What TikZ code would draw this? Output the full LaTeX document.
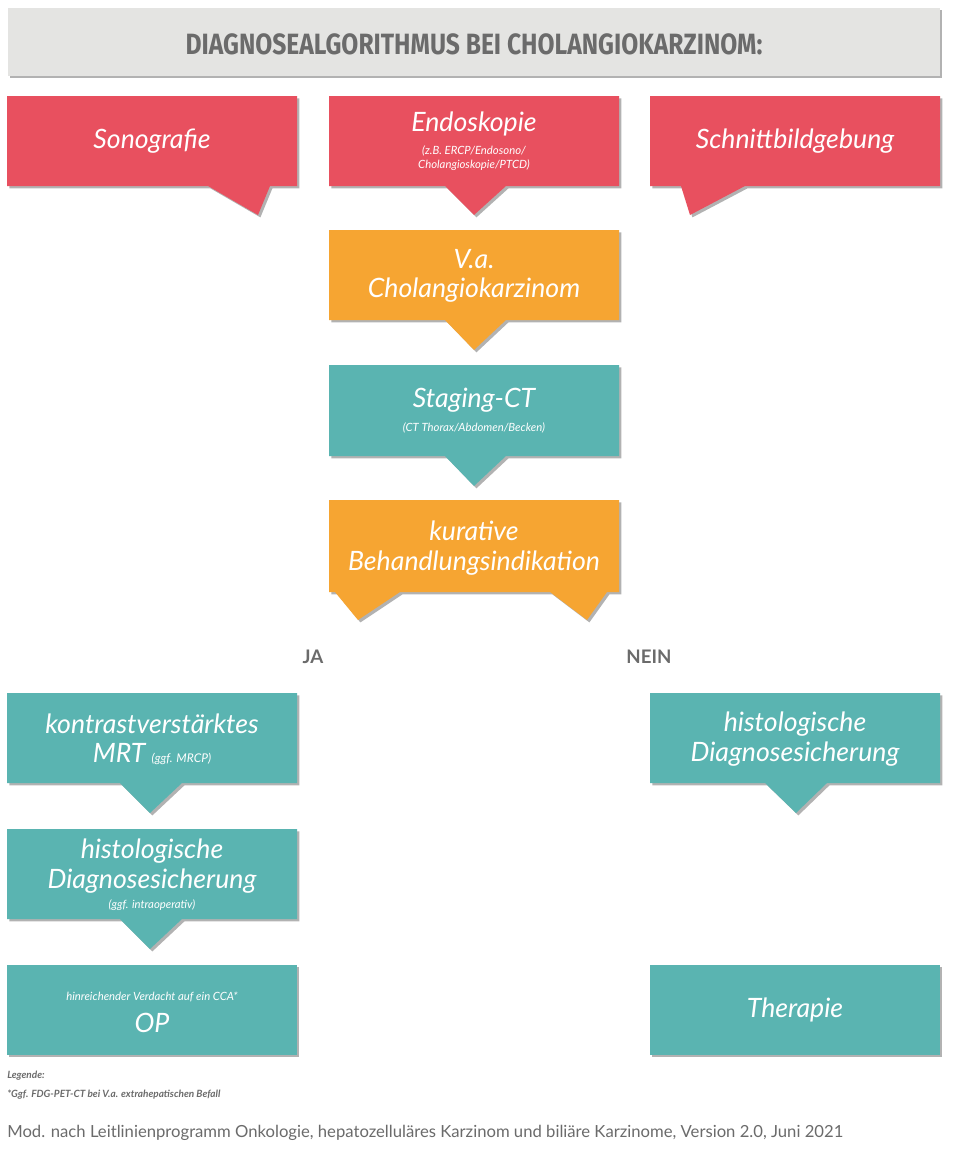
\documentclass[tikz,border=0pt]{standalone}
\usepackage{fontspec}
\setmainfont{Lato}
\newfontfamily\titlefont[FakeStretch=0.84]{Fira Sans}
\usetikzlibrary{shadows}
\definecolor{cred}{HTML}{E8505F}
\definecolor{corange}{HTML}{F6A532}
\definecolor{cteal}{HTML}{5AB4B1}
\definecolor{ctitle}{HTML}{E4E4E2}
\definecolor{cgray}{HTML}{6B6B6B}
\begin{document}
\begin{tikzpicture}[x=0.75pt,y=-0.75pt,
  bx/.style={drop shadow={shadow xshift=1.8pt,shadow yshift=-1.8pt,opacity=.3,fill=black}},
  txt/.style={text=white,align=center,font=\fontsize{20}{22}\selectfont\itshape,inner sep=0pt},
  small/.style={font=\fontsize{8.5}{10}\selectfont\itshape},
  lbl/.style={text=cgray,font=\fontsize{14}{16}\selectfont\bfseries,inner sep=0pt}]
\useasboundingbox (0,0) rectangle (957,1153);
\fill[white] (0,0) rectangle (957,1153);
% title
\fill[ctitle,bx] (8,8) rectangle (940,76);
\node[text=cgray,font=\titlefont\fontsize{22}{24}\selectfont\bfseries,inner sep=0pt] (title) at (474,44) {DIAGNOSEALGORITHMUS BEI CHOLANGIOKARZINOM:};
% row 1
\fill[cred,bx] (7,96) -- (297,96) -- (297,186) -- (270,186) -- (258,215) -- (208,186) -- (7,186) -- cycle;
\node[txt] (sono) at (152,141) {Sonografie};
\fill[cred,bx] (329,96) -- (619,96) -- (619,186) -- (506,186) -- (474,215) -- (445,186) -- (329,186) -- cycle;
\node[txt] (endo) at (474,124) {Endoskopie};
\node[txt,small,align=center] (endos) at (474,158) {(z.B. ERCP/Endosono/\\Cholangioskopie/PTCD)};
\fill[cred,bx] (650,96) -- (940,96) -- (940,186) -- (745,186) -- (690,215) -- (681,186) -- (650,186) -- cycle;
\node[txt] (schnitt) at (795,141) {Schnittbildgebung};
% V.a.
\fill[corange,bx] (329,230) -- (619,230) -- (619,320) -- (506,320) -- (474,350) -- (445,320) -- (329,320) -- cycle;
\node[txt] (va) at (474,276) {V.a.\\Cholangiokarzinom};
% staging
\fill[cteal,bx] (329,365) -- (619,365) -- (619,456) -- (506,456) -- (474,486) -- (445,456) -- (329,456) -- cycle;
\node[txt] (stag) at (474,400) {Staging-CT};
\node[txt,small] (stags) at (474,428) {(CT Thorax/Abdomen/Becken)};
% kurativ
\fill[corange,bx] (329,500) -- (619,500) -- (619,592) -- (607,592) -- (587,620) -- (550,592) -- (400,592) -- (358,620) -- (335,592) -- (329,592) -- cycle;
\node[txt] (kur) at (474,548) {kurative\\Behandlungsindikation};
\node[lbl] (ja) at (313,657) {JA};
\node[lbl] (nein) at (649,657) {NEIN};
% left column
\fill[cteal,bx] (7,693) -- (297,693) -- (297,783) -- (182,783) -- (150,813) -- (120,783) -- (7,783) -- cycle;
\node[txt] (mrt) at (152,739) {kontrastverstärktes\\MRT {\fontsize{9}{10}\selectfont(ggf. MRCP)}};
\fill[cteal,bx] (7,829) -- (297,829) -- (297,919) -- (182,919) -- (150,949) -- (120,919) -- (7,919) -- cycle;
\node[txt] (histl) at (152,866) {histologische\\Diagnosesicherung};
\node[txt,small] (histls) at (152,905) {(ggf. intraoperativ)};
\fill[cteal,bx] (7,965) rectangle (297,1055);
\node[txt,small] (verd) at (152,997) {hinreichender Verdacht auf ein CCA*};
\node[txt] (op) at (152,1023) {OP};
% right column
\fill[cteal,bx] (650,693) -- (940,693) -- (940,783) -- (827,783) -- (796,813) -- (765,783) -- (650,783) -- cycle;
\node[txt] (histr) at (795,739) {histologische\\Diagnosesicherung};
\fill[cteal,bx] (650,965) rectangle (940,1055);
\node[txt] (ther) at (795,1010) {Therapie};
% legend
\node[anchor=west,text=cgray,font=\fontsize{7.5}{9}\selectfont\bfseries\itshape,inner sep=0pt] (leg1) at (7,1076) {Legende:};
\node[anchor=west,text=cgray,font=\fontsize{7.5}{9}\selectfont\bfseries\itshape,inner sep=0pt] (leg2) at (7,1095) {*Ggf. FDG-PET-CT bei V.a. extrahepatischen Befall};
\node[anchor=west,text=cgray,font=\fontsize{12.5}{14}\selectfont,inner sep=0pt] (foot) at (7,1133) {Mod. nach Leitlinienprogramm Onkologie, hepatozelluläres Karzinom und biliäre Karzinome, Version 2.0, Juni 2021};
\end{tikzpicture}
\end{document}
